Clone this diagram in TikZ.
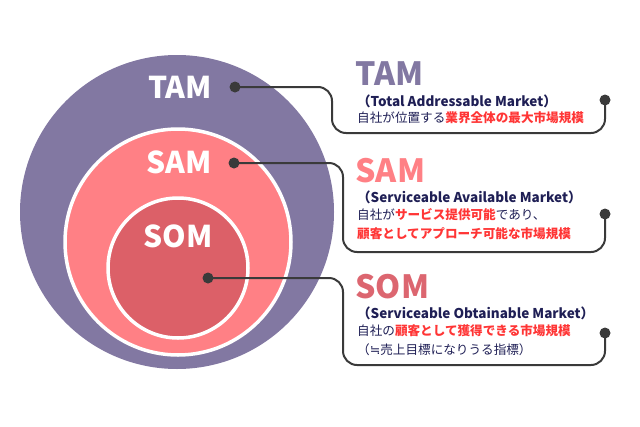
\documentclass[tikz,border=0pt]{standalone}
\usepackage{fontspec}
\setmainfont{Noto Sans CJK JP}
\newfontfamily\symfont{DejaVu Sans}
\usetikzlibrary{positioning}
\definecolor{tamc}{HTML}{8278A2}
\definecolor{samc}{HTML}{FF8085}
\definecolor{somc}{HTML}{DC6068}
\definecolor{somt}{HTML}{DC6670}
\definecolor{navy}{HTML}{1F1F55}
\definecolor{hot}{HTML}{FF3535}
\definecolor{wire}{HTML}{3A3A3A}
\newcommand{\hl}[1]{\textcolor{hot}{\bfseries #1}}
\begin{document}
\begin{tikzpicture}[x=1pt,y=-1pt,
    ring/.style={draw=white,line width=3.5pt},
    inlabel/.style={text=white,font=\bfseries\fontsize{30}{30}\selectfont},
    title/.style={anchor=west,font=\bfseries\fontsize{32}{32}\selectfont},
    sub/.style={anchor=west,text=navy,font=\bfseries\fontsize{13.5}{14}\selectfont,inner sep=0pt},
    desc/.style={anchor=west,text=navy,font=\fontsize{12.6}{14}\selectfont,inner sep=0pt},
    wireline/.style={draw=wire,line width=2pt,rounded corners=14pt},
    dot/.style={circle,fill=wire,inner sep=0pt,minimum size=11pt}]
  \useasboundingbox (0,0) rectangle (640,426);
  % circles
  \fill[tamc] (177,212) circle (157);
  \filldraw[ring,fill=samc] (178,242) circle (113);
  \filldraw[ring,fill=somc] (178,268) circle (70);
  \node[inlabel] (tamin) at (180,87) {TAM};
  \node[inlabel] (samin) at (179,162) {SAM};
  \node[inlabel] (somin) at (178,236) {SOM};
  % dots
  \node[dot] (tama) at (235,87) {};
  \node[dot] (tamb) at (605,100) {};
  \node[dot] (sama) at (234,163) {};
  \node[dot] (samb) at (605,214) {};
  \node[dot] (soma) at (208,278) {};
  \node[dot] (somb) at (605,333) {};
  % connectors
  \draw[wireline] (tama.center) -| (332,133) -| (tamb.center);
  \draw[wireline] (sama.center) -| (343,252) -| (samb.center);
  \draw[wireline] (soma.center) -| (343,365) -| (somb.center);
  % TAM text
  \node[title,text=tamc] (tamt) at (352,74) {TAM};
  \node[sub] (tams) at (357,101) {（Total Addressable Market）};
  \node[desc] (tamd) at (357,118) {自社が位置する\hl{業界全体の最大市場規模}};
  % SAM text
  \node[title,text=samc] (samt) at (352,171) {SAM};
  \node[sub] (sams) at (357,197) {（Serviceable Available Market）};
  \node[desc] (samd) at (357,215) {自社が\hl{サービス提供可能}であり、};
  \node[desc] (same) at (357,234) {\hl{顧客としてアプローチ可能な市場規模}};
  % SOM text
  \node[title,text=somt] (somt) at (352,287) {SOM};
  \node[sub] (soms) at (357,313) {（Serviceable Obtainable Market）};
  \node[desc] (somd) at (357,331) {自社の\hl{顧客として獲得できる市場規模}};
  \node[desc] (some) at (357,350) {（{\symfont ≒}売上目標になりうる指標）};
\end{tikzpicture}
\end{document}
